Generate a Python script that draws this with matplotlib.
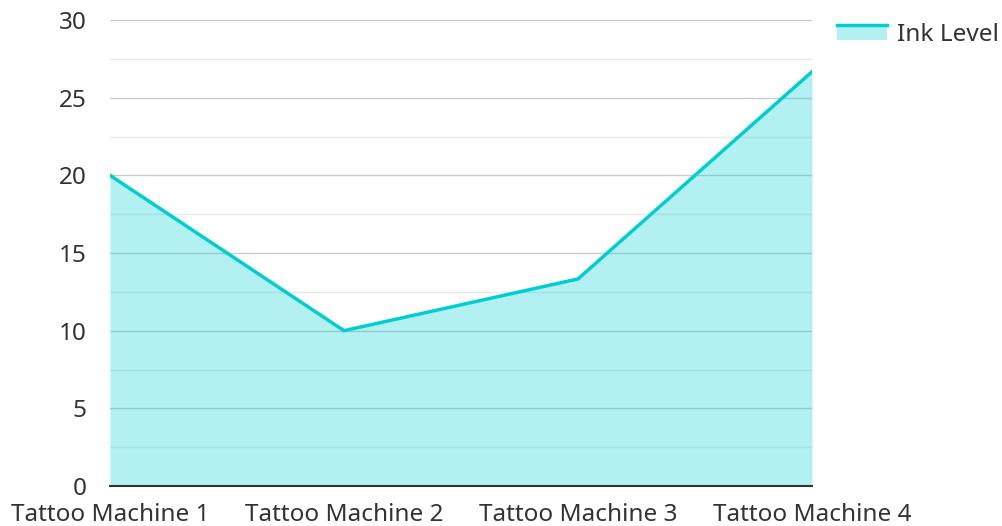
import matplotlib
matplotlib.use("Agg")
import matplotlib.pyplot as plt
from matplotlib.legend_handler import HandlerBase
from matplotlib.patches import Rectangle
from matplotlib.lines import Line2D

categories = ["Tattoo Machine 1", "Tattoo Machine 2", "Tattoo Machine 3", "Tattoo Machine 4"]
ink_level = [20, 10, 13.33, 26.67]
series_name = "Ink Level"
y_ticks = [0, 5, 10, 15, 20, 25, 30]

LINE = "#00CED1"
FILL_ALPHA = 0.3
FS = 17.5

plt.rcParams['font.family'] = ['Noto Sans', 'DejaVu Sans']

fig = plt.figure(figsize=(10.02, 5.26), dpi=100)
ax = fig.add_axes([110/1002, 40/526, (812-110)/1002, (486-20)/526])

x = list(range(len(categories)))
ax.fill_between(x, ink_level, 0, color=LINE, alpha=FILL_ALPHA, zorder=3, linewidth=0)
ax.plot(x, ink_level, color=LINE, linewidth=2.5, zorder=4, solid_joinstyle='miter')

ax.set_xlim(0, len(categories) - 1)
ax.set_ylim(0, 30)
ax.set_xticks(x)
ax.set_xticklabels(categories)
ax.set_yticks(y_ticks)
ax.set_yticks([2.5, 7.5, 12.5, 17.5, 22.5, 27.5], minor=True)

ax.grid(axis='y', which='major', color='#cccccc', linewidth=1, zorder=1)
ax.grid(axis='y', which='minor', color='#e8e8e8', linewidth=1, zorder=1)

for s in ['top', 'right', 'left']:
    ax.spines[s].set_visible(False)
ax.spines['bottom'].set_color('#333333')
ax.spines['bottom'].set_linewidth(1.5)
ax.spines['bottom'].set_zorder(5)

ax.tick_params(axis='both', which='both', length=0, labelsize=FS, colors='#333333')
ax.tick_params(axis='y', pad=17)
ax.tick_params(axis='x', pad=12)


class AreaHandler(HandlerBase):
    def create_artists(self, legend, orig_handle, xdescent, ydescent, width, height, fontsize, trans):
        rect = Rectangle((-xdescent, -ydescent), width, height, facecolor=LINE, alpha=FILL_ALPHA,
                         edgecolor='none', transform=trans)
        line = Line2D([-xdescent, -xdescent + width], [-ydescent + height, -ydescent + height],
                      color=LINE, linewidth=2.5, transform=trans)
        return [rect, line]


handle = Rectangle((0, 0), 1, 1)
leg = fig.legend([handle], [series_name], handler_map={Rectangle: AreaHandler()},
                 loc='upper left', bbox_to_anchor=(837/1002, 1 - 23/526),
                 frameon=False, fontsize=FS, handlelength=2.05, handleheight=0.55,
                 handletextpad=0.4, borderpad=0, borderaxespad=0, labelcolor='#333333')

fig.savefig("out.png", dpi=100)
